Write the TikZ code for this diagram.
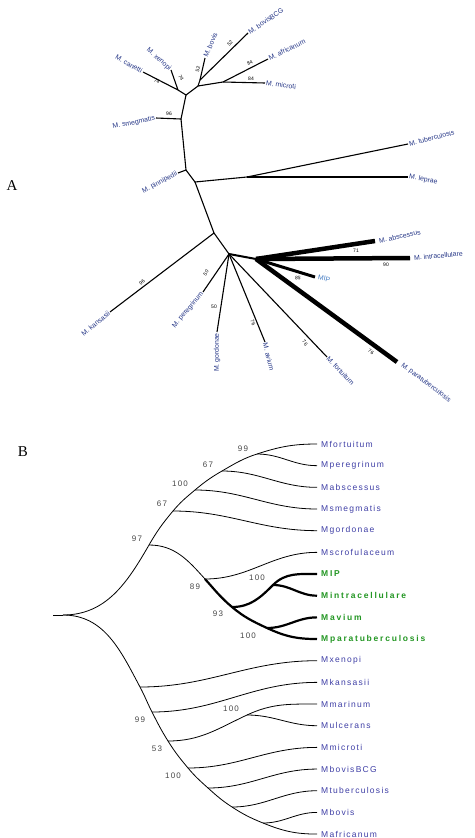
\documentclass[tikz,border=0pt]{standalone}
\usepackage{fontspec}
\setmainfont{Liberation Serif}
\setsansfont{Liberation Sans}
\newfontfamily\taxfont[LetterSpace=15,BoldFeatures={LetterSpace=21}]{Liberation Sans}
\usetikzlibrary{calc}
\definecolor{nameblue}{RGB}{38,55,135}
\definecolor{mipblue}{RGB}{70,125,195}
\definecolor{tipblue}{RGB}{62,62,165}
\definecolor{tipgreen}{RGB}{35,150,35}
\definecolor{bootgray}{RGB}{70,70,70}
\tikzset{
  panel/.style={font=\fontsize{15}{16}\selectfont},
  aname/.style={font=\sffamily\fontsize{6.9}{7.5}\selectfont,text=nameblue,inner sep=1pt},
  aboot/.style={font=\sffamily\fontsize{5}{6}\selectfont,inner sep=0pt},
  aedge/.style={line width=1.1pt},
  abold/.style={line width=4.5pt},
  btip/.style={font=\taxfont\fontsize{8.5}{10}\selectfont,text=tipblue,anchor=west,inner sep=0pt,xshift=4pt},
  bgreen/.style={btip,font=\taxfont\bfseries\fontsize{8.5}{10}\selectfont,text=tipgreen},
  bboot/.style={font=\taxfont\fontsize{8}{9}\selectfont,text=bootgray,inner sep=0pt},
  bedge/.style={line width=0.8pt},
  bbold/.style={line width=2.2pt}
}
\begin{document}
\begin{tikzpicture}[x=1pt,y=-1pt]
\useasboundingbox (0,0) rectangle (474,838);
\def\tipx{317}
\def\tipy{444}
\def\gap{21.67}

% ---------- A: unrooted tree
\node[panel] (pA) at (12,186) {A};
\coordinate (a1) at (186,95);
\coordinate (a2) at (178,90);
\coordinate (a3) at (198,86);
\coordinate (a4) at (200,80);
\coordinate (a5) at (223,82);
\coordinate (a6) at (181,119);
\coordinate (a7) at (186,170);
\coordinate (a8) at (195,182);
\coordinate (a9) at (247,177);
\coordinate (a10) at (214,233);
\coordinate (a11) at (229,254);
\coordinate (a12) at (256,259);
\coordinate (tcan) at (143,72);
\coordinate (txen) at (171,70);
\coordinate (tbov) at (205,58);
\coordinate (tbcg) at (248,33);
\coordinate (tafr) at (268,59);
\coordinate (tmic) at (265,83);
\coordinate (tsme) at (156,118);
\coordinate (tpin) at (178,173);
\coordinate (ttub) at (408,144);
\coordinate (tlep) at (408,177);
\coordinate (tkan) at (110,312);
\coordinate (tper) at (203,292);
\coordinate (tgor) at (217,332);
\coordinate (tavi) at (265,342);
\coordinate (tfor) at (327,357);
\coordinate (tabs) at (375,241);
\coordinate (tint) at (410,258);
\coordinate (tmip) at (315,277);
\coordinate (tpar) at (397,362);

\draw[aedge] (tcan) -- (a2) -- (txen);
\draw[aedge] (a2) -- (a1) -- (a3) -- (a4) -- (tbov);
\draw[aedge] (a4) -- (tbcg);
\draw[aedge] (a3) -- (a5) -- (tmic);
\draw[aedge] (a5) -- (tafr);
\draw[aedge] (a1) -- (a6) -- (tsme);
\draw[aedge] (a6) -- (a7) -- (tpin);
\draw[aedge] (a7) -- (a8) -- (a9) -- (ttub);
\draw[aedge] (a9) -- (tlep);
\draw[aedge] (a8) -- (a10) -- (tkan);
\draw[aedge] (a10) -- (a11);
\draw[aedge] (a11) -- (tper);
\draw[aedge] (a11) -- (tgor);
\draw[aedge] (a11) -- (tavi);
\draw[aedge] (a11) -- (tfor);
\draw[line width=2pt] (a11) -- (a12);
\draw[abold] (a12) -- (tabs);
\draw[abold] (a12) -- (tint);
\draw[abold] (a12) -- (tpar);
\draw[line width=3pt] (a12) -- (tmip);

\node[aname,anchor=east,rotate=-30] (ncan) at (tcan) {M. canetti};
\node[aname,anchor=east,rotate=-41] (nxen) at (txen) {M. xenopi};
\node[aname,anchor=west,rotate=67] (nbov) at (tbov) {M. bovis};
\node[aname,anchor=west,rotate=34] (nbcg) at (tbcg) {M. bovisBCG};
\node[aname,anchor=west,rotate=26] (nafr) at (tafr) {M. africanum};
\node[aname,anchor=west,rotate=-7] (nmic) at (tmic) {M. microti};
\node[aname,anchor=east,rotate=12] (nsme) at (tsme) {M. smegmatis};
\node[aname,anchor=east,rotate=28] (npin) at (tpin) {M. pinnipedii};
\node[aname,anchor=west,rotate=14] (ntub) at (ttub) {M. tuberculosis};
\node[aname,anchor=west,rotate=-10] (nlep) at (tlep) {M. leprae};
\node[aname,anchor=east,rotate=39] (nkan) at (tkan) {M. kansasii};
\node[aname,anchor=east,rotate=50] (nper) at (tper) {M. peregrinum};
\node[aname,anchor=east,rotate=90] (ngor) at (tgor) {M. gordonae};
\node[aname,anchor=west,rotate=-76] (navi) at (tavi) {M. avium};
\node[aname,anchor=west,rotate=-46] (nfor) at (tfor) {M. fortuitum};
\node[aname,anchor=west,rotate=-37] (npar) at ($(tpar)+(4,2)$) {M. paratuberculosis};
\node[aname,anchor=west,rotate=12] (nabs) at ($(tabs)+(3,0)$) {M. abscessus};
\node[aname,anchor=west,rotate=5] (nint) at ($(tint)+(3,0)$) {M. intracellulare};
\node[aname,anchor=west,rotate=-12,text=mipblue] (nmip) at ($(tmip)+(2,0)$) {MIP};

% bootstrap values, A
\node[aboot,rotate=-30] at (157,81) {74};
\node[aboot,rotate=-60] at (181,78) {74};
\node[aboot,rotate=75] at (198,69) {52};
\node[aboot,rotate=45] at (230,43) {52};
\node[aboot,rotate=25] at (250,63) {84};
\node[aboot] at (251,79) {84};
\node[aboot] at (169,114) {96};
\node[aboot,rotate=38] at (142,282) {96};
\node[aboot,rotate=55] at (206,273) {50};
\node[aboot] at (214,307) {50};
\node[aboot,rotate=-70] at (253,323) {76};
\node[aboot,rotate=-50] at (305,343) {76};
\node[aboot,rotate=-35] at (371,352) {76};
\node[aboot] at (356,251) {71};
\node[aboot] at (386,265) {90};
\node[aboot,rotate=-10] at (298,278) {85};

% ---------- B: curved cladogram
\node[panel] (pB) at (23,452) {B};
\foreach \nm [count=\i from 0] in {for,per,abs,sme,gor,scr,mip,int,avi,par,xen,kan,mar,ulc,mic,bcg,tub,bov,afr}
  \coordinate (b\nm) at (\tipx,{\tipy+\gap*\i});
\foreach \nm/\txt in {for/Mfortuitum,per/Mperegrinum,abs/Mabscessus,sme/Msmegmatis,gor/Mgordonae,scr/Mscrofulaceum,xen/Mxenopi,kan/Mkansasii,mar/Mmarinum,ulc/Mulcerans,mic/Mmicroti,bcg/MbovisBCG,tub/Mtuberculosis,bov/Mbovis,afr/Mafricanum}
  \node[btip] (m\nm) at (b\nm) {\txt};
\foreach \nm/\txt in {mip/MIP,int/Mintracellulare,avi/Mavium,par/Mparatuberculosis}
  \node[bgreen] (m\nm) at (b\nm) {\txt};

\coordinate (r0) at (53,615);
\coordinate (r) at (63,615);
\coordinate (n97) at (149,545);
\coordinate (n67a) at (173,511);
\coordinate (n100a) at (195,490);
\coordinate (n67b) at (222,471);
\coordinate (n99) at (257,454);
\coordinate (n89) at (205,579);
\coordinate (n93) at (232,607);
\coordinate (n100b) at (273,585);
\coordinate (n100c) at (267,628);
\coordinate (l1) at (140,687);
\coordinate (l2) at (152,712);
\coordinate (l3) at (168,741);
\coordinate (l4) at (188,768);
\coordinate (l5) at (208,788);
\coordinate (l6) at (232,807);
\coordinate (l7) at (263,823);
\coordinate (n100d) at (247,715);

\draw[bedge] (r0) -- (r);
% upper spine
\draw[bedge] (r) to[out=0,in=240] (n97) to[out=60,in=230] (n67a)
  to[out=50,in=220] (n100a) to[out=40,in=210] (n67b)
  to[out=30,in=198] (n99) to[out=18,in=180] (bfor);
\foreach \p/\c in {n99/bper,n67b/babs,n100a/bsme,n67a/bgor,n89/bscr}
  \draw[bedge] (\p) to[out=0,in=180] (\c);
\draw[bedge] (n97) to[out=0,in=132] (n89);
\draw[bbold] (n89) to[out=-48,in=140] (n93) to[out=-40,in=155] (n100c) to[out=-25,in=180] (bpar);
\draw[bbold] (n93) to[out=0,in=225] (n100b) to[out=45,in=180] (bmip);
\draw[bbold] (n100b) to[out=0,in=180] (bint);
\draw[bbold] (n100c) to[out=0,in=180] (bavi);
% lower spine
\draw[bedge] (r) to[out=0,in=118] (l1) to[out=-62,in=117] (l2)
  to[out=-63,in=122] (l3) to[out=-58,in=130] (l4) to[out=-50,in=138] (l5)
  to[out=-42,in=147] (l6) to[out=-33,in=158] (l7) to[out=-22,in=180] (bafr);
\draw[bedge] (l3) to[out=0,in=205] (n100d) to[out=25,in=180] (bmar);
\foreach \p/\c in {l1/bxen,l2/bkan,n100d/bulc,l4/bmic,l5/bbcg,l6/btub,l7/bbov}
  \draw[bedge] (\p) to[out=0,in=180] (\c);

% bootstrap values, B
\node[bboot] at (243,449) {99};
\node[bboot] at (208,465) {67};
\node[bboot] at (180,484) {100};
\node[bboot] at (162,504) {67};
\node[bboot] at (137,539) {97};
\node[bboot] at (195,587) {89};
\node[bboot] at (218,614) {93};
\node[bboot] at (248,636) {100};
\node[bboot] at (257,578) {100};
\node[bboot] at (140,720) {99};
\node[bboot] at (157,749) {53};
\node[bboot] at (173,776) {100};
\node[bboot] at (231,709) {100};
\end{tikzpicture}
\end{document}
